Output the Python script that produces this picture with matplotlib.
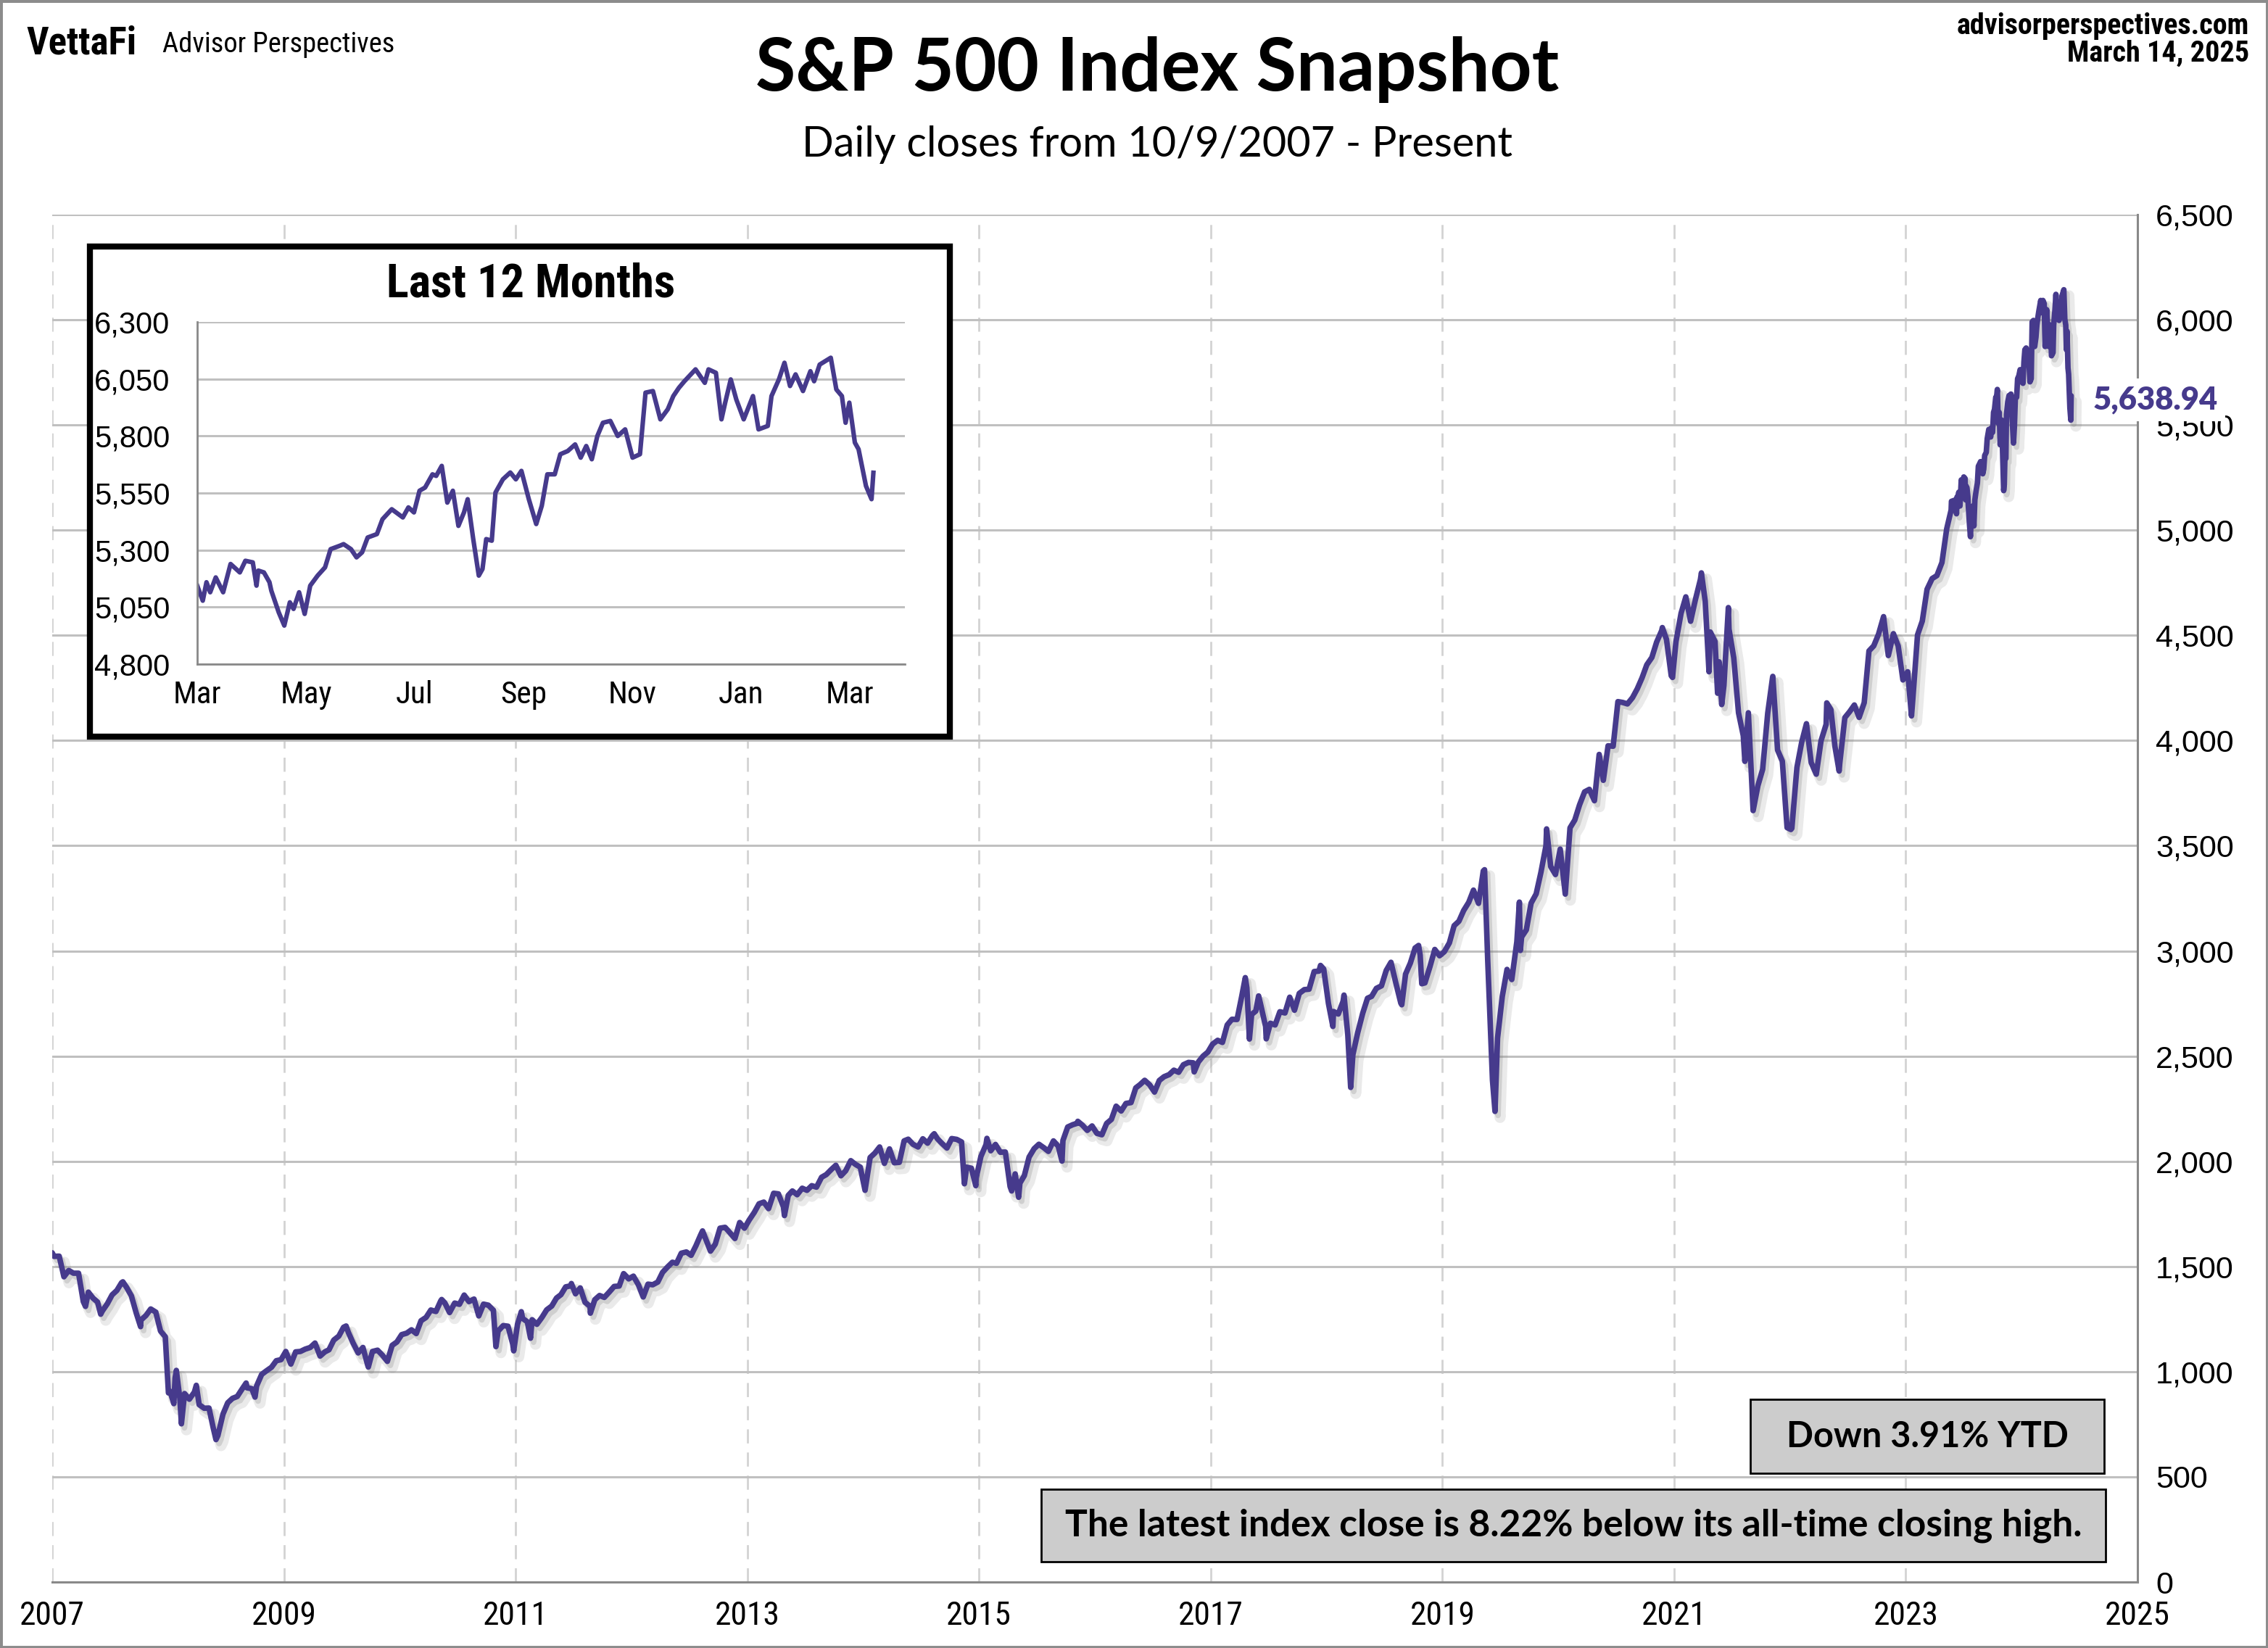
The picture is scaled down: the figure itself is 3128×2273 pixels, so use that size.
import numpy as np
import pandas as pd
import matplotlib
matplotlib.use("Agg")
import matplotlib.pyplot as plt
import matplotlib.patheffects as pe
from matplotlib import font_manager as fm
from matplotlib.patches import Rectangle
from matplotlib.ticker import FuncFormatter

# ---------------- data ----------------
start_date = "2007-10-09"
start_close = 1565

# semi-monthly closes (15th, month end) per year
y2007 = [1548, 1549, 1451, 1481, 1468, 1468]  # Oct-Dec
y2008 = [1333, 1378, 1349, 1331, 1288, 1323, 1365, 1386, 1423, 1400, 1360, 1280,
         1245, 1267, 1298, 1283, 1193, 1166, 907, 969, 873, 896, 869, 903]
y2009 = [843, 826, 827, 735, 696, 798, 852, 873, 882, 919, 923, 919,
         932, 987, 1004, 1021, 1052, 1057, 1096, 1036, 1094, 1096, 1107, 1115]
y2010 = [1136, 1074, 1094, 1104, 1150, 1169, 1211, 1187, 1136, 1089, 1115, 1031,
         1096, 1102, 1079, 1049, 1125, 1141, 1176, 1183, 1199, 1181, 1242, 1258]
y2011 = [1293, 1286, 1336, 1327, 1281, 1326, 1320, 1364, 1333, 1345, 1265, 1321,
         1316, 1292, 1193, 1219, 1216, 1131, 1225, 1253, 1237, 1247, 1225, 1258]
y2012 = [1294, 1312, 1350, 1366, 1403, 1408, 1370, 1398, 1330, 1310, 1342, 1362,
         1353, 1379, 1405, 1407, 1465, 1441, 1454, 1412, 1355, 1416, 1413, 1426]
y2013 = [1472, 1498, 1520, 1515, 1563, 1569, 1553, 1598, 1650, 1631, 1573, 1606,
         1682, 1686, 1661, 1633, 1709, 1682, 1721, 1757, 1798, 1806, 1775, 1848]
y2014 = [1845, 1783, 1838, 1859, 1841, 1872, 1862, 1884, 1877, 1924, 1937, 1960,
         1981, 1931, 1955, 2003, 1985, 1972, 1862, 2018, 2039, 2068, 1990, 2059]
y2015 = [1993, 1995, 2097, 2105, 2081, 2068, 2107, 2086, 2122, 2107, 2084, 2063,
         2108, 2104, 2092, 1972, 1967, 1920, 2023, 2079, 2050, 2080, 2043, 2044]
y2016 = [1880, 1940, 1896, 1932, 2020, 2060, 2081, 2065, 2047, 2097, 2072, 2099,
         2163, 2174, 2181, 2171, 2147, 2168, 2133, 2126, 2180, 2199, 2262, 2239]
y2017 = [2275, 2279, 2349, 2364, 2385, 2363, 2329, 2384, 2402, 2412, 2433, 2423,
         2459, 2470, 2468, 2472, 2500, 2519, 2557, 2575, 2565, 2648, 2675, 2674]
y2018 = [2786, 2824, 2698, 2714, 2748, 2641, 2656, 2648, 2711, 2705, 2780, 2718,
         2798, 2816, 2818, 2902, 2904, 2914, 2750, 2712, 2700, 2760, 2600, 2507]
y2019 = [2610, 2704, 2775, 2784, 2822, 2834, 2907, 2946, 2850, 2752, 2890, 2942,
         3014, 2980, 2848, 2926, 3007, 2977, 2996, 3038, 3120, 3141, 3192, 3231]
y2020 = [3289, 3226, 3380, 2954, 2386, 2585, 2784, 2912, 2864, 3044, 3066, 3100,
         3227, 3271, 3373, 3500, 3401, 3363, 3484, 3270, 3585, 3622, 3694, 3756]
y2021 = [3768, 3714, 3934, 3811, 3975, 3973, 4185, 4181, 4174, 4204, 4246, 4298,
         4360, 4395, 4468, 4523, 4481, 4308, 4471, 4605, 4683, 4567, 4669, 4766]
y2022 = [4663, 4516, 4471, 4374, 4262, 4530, 4393, 4132, 4023, 4132, 3667, 3785,
         3863, 4130, 4297, 3955, 3902, 3586, 3583, 3872, 3992, 4080, 3895, 3840]
y2023 = [3999, 4077, 4147, 3970, 3892, 4109, 4137, 4169, 4110, 4180, 4426, 4450,
         4505, 4589, 4404, 4508, 4450, 4288, 4327, 4194, 4502, 4568, 4719, 4770]
y2024 = [4784, 4846, 5006, 5096]  # Jan-Feb

# notable intra-month closes (highs / lows)
extra_dates = ["2008-01-22", "2008-03-10", "2008-05-19", "2008-07-14", "2008-10-10",
               "2008-10-27", "2008-11-04", "2008-11-20", "2009-01-06", "2009-03-09",
               "2009-06-12", "2009-07-10", "2010-04-23", "2010-07-02", "2011-02-18",
               "2011-08-08", "2011-10-03", "2011-10-27", "2011-11-25", "2012-04-02",
               "2012-06-01", "2012-09-14", "2013-05-21", "2014-02-03", "2015-05-21",
               "2015-08-24", "2015-09-29", "2015-11-03", "2016-01-20", "2016-02-11",
               "2016-06-27", "2016-08-16", "2017-08-18", "2018-01-26", "2018-02-08",
               "2018-03-09", "2018-04-02", "2018-09-20", "2018-10-29", "2018-12-03",
               "2018-12-24", "2019-06-03", "2019-07-26", "2019-08-05", "2020-02-19",
               "2020-03-23", "2020-06-08", "2020-06-11", "2020-09-02", "2021-09-02",
               "2021-10-04", "2022-01-03", "2022-01-27", "2022-02-23", "2022-03-08",
               "2022-03-29", "2022-05-20", "2022-08-16", "2022-10-12", "2023-02-02",
               "2023-03-13", "2023-10-27", "2024-03-01"]
extra_close = [1310, 1273, 1427, 1214, 899,
               848, 1006, 752, 935, 677,
               946, 879, 1217, 1022, 1343,
               1119, 1099, 1285, 1159, 1419,
               1278, 1466, 1669, 1742, 2131,
               1893, 1884, 2109, 1859, 1829,
               2001, 2190, 2425, 2873, 2581,
               2786, 2582, 2931, 2641, 2790,
               2351, 2744, 3026, 2844, 3386,
               2237, 3232, 3002, 3580, 4537,
               4300, 4797, 4327, 4225, 4171,
               4632, 3901, 4305, 3577, 4179,
               3855, 4117, 5137]

# last 12 months (days since 2024-03-14, close)
inset_start = "2024-03-14"
inset_day = [0, 3, 5, 7, 10, 14, 18, 23, 26, 30, 32, 33, 36, 39, 40, 44, 47, 50, 52,
             55, 58, 61, 65, 69, 72, 77, 79, 83, 86, 89, 92, 97, 100, 105, 111, 114,
             117, 120, 123, 127, 129, 132, 135, 138, 141, 144, 146, 149, 152, 154,
             156, 159, 161, 165, 169, 172, 175, 179, 183, 186, 189, 193, 196, 200,
             204, 207, 210, 213, 216, 219, 223, 227, 231, 235, 239, 242, 246, 250,
             254, 257, 260, 263, 269, 274, 276, 280, 283, 285, 288, 291, 295, 300,
             303, 308, 310, 314, 317, 320, 323, 327, 331, 333, 336, 342, 345, 348,
             350, 352, 355, 357, 361, 364, 365]
inset_close = [5144, 5078, 5159, 5115, 5180, 5115, 5239, 5202, 5253, 5246, 5144, 5210,
               5202, 5159, 5122, 5027, 4969, 5071, 5042, 5115, 5020, 5144, 5188, 5224,
               5304, 5319, 5326, 5304, 5268, 5290, 5355, 5370, 5435, 5479, 5443, 5487,
               5465, 5560, 5574, 5632, 5625, 5669, 5508, 5560, 5406, 5465, 5523, 5348,
               5188, 5217, 5348, 5341, 5552, 5610, 5640, 5610, 5647, 5523, 5414, 5494,
               5632, 5632, 5720, 5734, 5763, 5705, 5756, 5698, 5800, 5858, 5866, 5800,
               5829, 5705, 5720, 5990, 5997, 5873, 5917, 5975, 6011, 6040, 6092, 6033,
               6092, 6077, 5873, 5946, 6048, 5960, 5873, 5975, 5829, 5844, 5975, 6048,
               6121, 6019, 6070, 5997, 6084, 6040, 6113, 6143, 6004, 5975, 5858, 5946,
               5771, 5742, 5581, 5523, 5638.94]

y_ticks = list(range(0, 6501, 500))
x_labels = ["2007", "2009", "2011", "2013", "2015", "2017", "2019", "2021", "2023", "2025"]
inset_y_ticks = [4800, 5050, 5300, 5550, 5800, 6050, 6300]
inset_x_labels = ["Mar", "May", "Jul", "Sep", "Nov", "Jan", "Mar"]

# ---------------- assemble series ----------------
def semi_monthly(year, months):
    out = []
    for m in months:
        out.append(pd.Timestamp(year, m, 15))
        out.append(pd.Timestamp(year, m, 1) + pd.offsets.MonthEnd(0))
    return out

yearly = {2007: y2007, 2008: y2008, 2009: y2009, 2010: y2010, 2011: y2011, 2012: y2012,
          2013: y2013, 2014: y2014, 2015: y2015, 2016: y2016, 2017: y2017, 2018: y2018,
          2019: y2019, 2020: y2020, 2021: y2021, 2022: y2022, 2023: y2023, 2024: y2024}
dates, closes = [pd.Timestamp(start_date)], [start_close]
for yr, vals in yearly.items():
    n_months = len(vals) // 2
    months = list(range(13 - n_months, 13)) if yr == 2007 else list(range(1, n_months + 1))
    dates += semi_monthly(yr, months)
    closes += vals
dates += [pd.Timestamp(d) for d in extra_dates]
closes += extra_close
inset_dates = [pd.Timestamp(inset_start) + pd.Timedelta(days=d) for d in inset_day]
dates += inset_dates
closes += inset_close

main = pd.DataFrame({"date": dates, "close": closes}).sort_values("date")
di = pd.DatetimeIndex(main["date"])
main["t"] = di.year + (di.dayofyear - 1) / np.where(di.is_leap_year, 366, 365)
t0 = main["t"].iloc[0]

# ---------------- fonts ----------------
avail = {f.name for f in fm.fontManager.ttflist}
narrow_pref = ["Liberation Sans Narrow", "Arial Narrow", "Roboto Condensed",
               "Open Sans Condensed", "Noto Sans Condensed", "Archivo Narrow"]
NARROW_NAME = next((n for n in narrow_pref if n in avail), "Liberation Sans")
NARROW = [NARROW_NAME, "DejaVu Sans"]
ARIAL = ["Liberation Sans", "DejaVu Sans"]
CAL = ["Lato", "DejaVu Sans"]

# ---------------- figure ----------------
W, H = 3128, 2273
fig = plt.figure(figsize=(W / 100, H / 100), dpi=100)
renderer = fig.canvas.get_renderer()
PURPLE = "#463A8C"
GRID = "#C0C0C0"
AXIS = "#898989"


def fx(px):
    return px / W


def fy(py):
    return 1 - py / H


def fit(text, width_px, family, weight="normal", ref=40.0):
    t = fig.text(0, 0, text, fontsize=ref, family=family, fontweight=weight)
    w = t.get_window_extent(renderer=renderer).width
    t.remove()
    return ref * width_px / w


ax = fig.add_axes([fx(72), fy(2182), fx(2948 - 72), (2182 - 296) / H])
shadow = [pe.SimpleLineShadow(offset=(5, -6), shadow_color="#808080", alpha=0.16, linewidth=11),
          pe.SimpleLineShadow(offset=(3, -4), shadow_color="#808080", alpha=0.25),
          pe.Normal()]
ax.plot(main["t"], main["close"], color=PURPLE, lw=5.5, solid_joinstyle="round",
        solid_capstyle="round", path_effects=shadow, zorder=3)
ax.set_ylim(0, 6500)
ax.set_yticks(y_ticks)
ax.yaxis.set_major_formatter(FuncFormatter(lambda v, p: f"{v:,.0f}"))
ax.yaxis.tick_right()
ax.set_xlim(t0, t0 + 18)
ax.set_xticks(t0 + np.arange(0, 19, 2))
ax.set_xticklabels(x_labels)
ax.yaxis.grid(True, color=GRID, lw=2.2)
ax.xaxis.grid(True, color="#D3D3D3", lw=2, ls=(0, (7, 4.5)))
ax.set_axisbelow(True)
for s in ["top", "left"]:
    ax.spines[s].set_visible(False)
for s in ["right", "bottom"]:
    ax.spines[s].set_color(AXIS)
    ax.spines[s].set_linewidth(2.2)
ax.tick_params(axis="y", length=0, pad=18, labelsize=fit("6,500", 108, ARIAL))
ax.tick_params(axis="x", length=0, pad=19, labelsize=fit("2009", 90, NARROW))
for lab in ax.get_yticklabels():
    lab.set_family(ARIAL)
for lab in ax.get_xticklabels():
    lab.set_family(NARROW)

last = main.iloc[-1]
lab_txt = f"{last['close']:,.2f}"
ax.annotate(lab_txt, xy=(last["t"], last["close"]), xytext=(22, -4),
            textcoords="offset points", ha="left", va="center",
            fontsize=fit(lab_txt, 172, CAL, "heavy"), fontweight="heavy", color=PURPLE,
            family=CAL, annotation_clip=False,
            bbox=dict(fc="white", ec="none", pad=7), zorder=10)

# ---------------- inset ----------------
fig.add_artist(Rectangle((fx(124), fy(1016)), fx(1186), 676 / H, transform=fig.transFigure,
                         fc="white", ec="black", lw=6, zorder=5))
axi = fig.add_axes([fx(272), fy(916), fx(1248 - 272), (916 - 444) / H], zorder=6)
axi.patch.set_alpha(0)
axi.plot(inset_day, inset_close, color=PURPLE, lw=4.5, solid_joinstyle="round")
axi.set_ylim(4800, 6300)
axi.set_yticks(inset_y_ticks)
axi.yaxis.set_major_formatter(FuncFormatter(lambda v, p: f"{v:,.0f}"))
axi.set_xlim(0, 382)
axi.set_xticks(np.arange(7) * 58.7)
axi.set_xticklabels(inset_x_labels)
axi.yaxis.grid(True, color=GRID, lw=2.2)
axi.set_axisbelow(True)
for s in ["top", "right"]:
    axi.spines[s].set_visible(False)
for s in ["left", "bottom"]:
    axi.spines[s].set_color(AXIS)
    axi.spines[s].set_linewidth(2)
axi.tick_params(axis="y", length=0, pad=27, labelsize=fit("6,300", 104, ARIAL))
axi.tick_params(axis="x", length=0, pad=16, labelsize=fit("Sep", 64, NARROW))
for lab in axi.get_yticklabels():
    lab.set_family(ARIAL)
for lab in axi.get_xticklabels():
    lab.set_family(NARROW)
fig.text(fx(732), fy(392), "Last 12 Months", ha="center", va="center",
         fontsize=fit("Last 12 Months", 398, NARROW, "bold"),
         fontweight="bold", family=NARROW, zorder=7)

# ---------------- titles / header ----------------
title = "S&P 500 Index Snapshot"
fig.text(fx(1596), fy(96), title, ha="center", va="center",
         fontsize=fit(title, 1108, CAL, "bold"), fontweight="bold", family=CAL)
sub = "Daily closes from 10/9/2007 - Present"
fig.text(fx(1596), fy(200), sub, ha="center", va="center",
         fontsize=fit(sub, 980, CAL), family=CAL)
fig.text(fx(36), fy(60), "VettaFi", ha="left", va="center",
         fontsize=fit("VettaFi", 152, NARROW, "bold"), fontweight="bold", family=NARROW)
fig.text(fx(224), fy(62), "Advisor Perspectives", ha="left", va="center",
         fontsize=fit("Advisor Perspectives", 320, NARROW), family=NARROW)
hdr_size = fit("advisorperspectives.com", 404, NARROW, "bold")
fig.text(fx(3102), fy(36), "advisorperspectives.com", ha="right", va="center",
         fontsize=hdr_size, fontweight="bold", family=NARROW)
fig.text(fx(3102), fy(74), "March 14, 2025", ha="right", va="center", fontsize=hdr_size,
         fontweight="bold", family=NARROW)

# ---------------- note boxes ----------------
note1 = "Down 3.91% YTD"
note2 = "The latest index close is 8.22% below its all-time closing high."
fig.add_artist(Rectangle((fx(2414), fy(2032)), fx(488), 102 / H, transform=fig.transFigure,
                         fc="#CCCCCC", ec="black", lw=2, zorder=5))
fig.text(fx(2658), fy(1981), note1, ha="center", va="center",
         fontsize=fit(note1, 388, CAL, "bold"), fontweight="bold", family=CAL, zorder=6)
fig.add_artist(Rectangle((fx(1436), fy(2154)), fx(1468), 100 / H, transform=fig.transFigure,
                         fc="#CCCCCC", ec="black", lw=2, zorder=5))
fig.text(fx(2170), fy(2104), note2, ha="center", va="center",
         fontsize=fit(note2, 1400, CAL, "bold"), fontweight="bold", family=CAL, zorder=6)

# outer frame
fig.add_artist(Rectangle((0, 0), 1, 1, transform=fig.transFigure, fill=False,
                         ec="#8C8C8C", lw=5, zorder=20))

fig.savefig("out.png", dpi=100)
